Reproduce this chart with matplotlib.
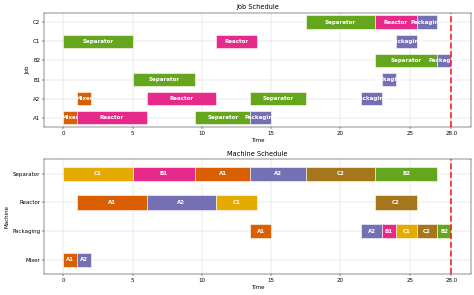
import matplotlib
matplotlib.use('Agg')
import matplotlib.pyplot as plt

# ── schedule data ────────────────────────────────────────────────────────────
jobs     = ['A1', 'A2', 'B1', 'B2', 'C1', 'C2']
machines = ['Mixer', 'Packaging', 'Reactor', 'Separator']

task_job     = ['A1', 'A1', 'A1', 'A1',
                'A2', 'A2', 'A2', 'A2',
                'B1', 'B1',
                'B2', 'B2',
                'C1', 'C1', 'C1',
                'C2', 'C2', 'C2']
task_machine = ['Mixer', 'Reactor', 'Separator', 'Packaging',
                'Mixer', 'Reactor', 'Separator', 'Packaging',
                'Separator', 'Packaging',
                'Separator', 'Packaging',
                'Separator', 'Reactor', 'Packaging',
                'Separator', 'Reactor', 'Packaging']
task_start   = [0, 1, 9.5, 13.5,
                1, 6, 13.5, 21.5,
                5, 23,
                22.5, 27,
                0, 11, 24,
                17.5, 22.5, 25.5]
task_end     = [1, 6, 13.5, 15,
                2, 11, 17.5, 23,
                9.5, 24,
                27, 28,
                5, 14, 25.5,
                22.5, 25.5, 27]

makespan = 28.0

machine_colors = {'Mixer': '#d95f02', 'Reactor': '#e7298a',
                  'Separator': '#66a61e', 'Packaging': '#7570b3'}
job_colors = {'A1': '#d95f02', 'A2': '#7570b3', 'B1': '#e7298a',
              'B2': '#66a61e', 'C1': '#e6ab02', 'C2': '#a6761d'}

# big canvas, low dpi -> 474x295 px
fig, (ax1, ax2) = plt.subplots(2, 1, figsize=(12, 7.47), dpi=39.5)
fig.subplots_adjust(left=0.093, right=0.993, top=0.957, bottom=0.071, hspace=0.28)

tasks = list(zip(task_job, task_machine, task_start, task_end))

# ── Job schedule ─────────────────────────────────────────────────────────────
for j in jobs:
    for job, mach, s, e in tasks:
        if job != j:
            continue
        y = jobs.index(job)
        ax1.barh(y, e - s, left=s, height=0.7, color=machine_colors[mach],
                 edgecolor='white', linewidth=1)
        ax1.text((s + e) / 2, y, mach, ha='center', va='center',
                 color='white', fontsize=10, fontweight='bold', zorder=1)

ax1.set_yticks(range(len(jobs)))
ax1.set_yticklabels(jobs)
ax1.set_ylim(-0.5, len(jobs) - 0.5)
ax1.set_ylabel('Job')
ax1.set_title('Job Schedule')

# ── Machine schedule ─────────────────────────────────────────────────────────
for m in machines:
    for job, mach, s, e in tasks:
        if mach != m:
            continue
        y = machines.index(mach)
        ax2.barh(y, e - s, left=s, height=0.5, color=job_colors[job],
                 edgecolor='white', linewidth=1)
        ax2.text((s + e) / 2, y, job, ha='center', va='center',
                 color='white', fontsize=10, fontweight='bold', zorder=1)

ax2.set_yticks(range(len(machines)))
ax2.set_yticklabels(machines)
ax2.set_ylim(-0.5, len(machines) - 0.5)
ax2.set_ylabel('Machine')
ax2.set_title('Machine Schedule')

for ax in (ax1, ax2):
    ax.set_xlim(-1.4, 29.4)
    ax.axvline(makespan, color='#ff2020', linestyle='--', linewidth=3, zorder=4)
    ticks = [0, 5, 10, 15, 20, 25, makespan]
    ax.set_xticks(ticks)
    ax.set_xticklabels(['0', '5', '10', '15', '20', '25', f'{makespan}'])
    ax.set_xlabel('Time')
    ax.grid(True, alpha=0.6)
    ax.set_axisbelow(True)

fig.savefig('out.png', dpi=39.5)
